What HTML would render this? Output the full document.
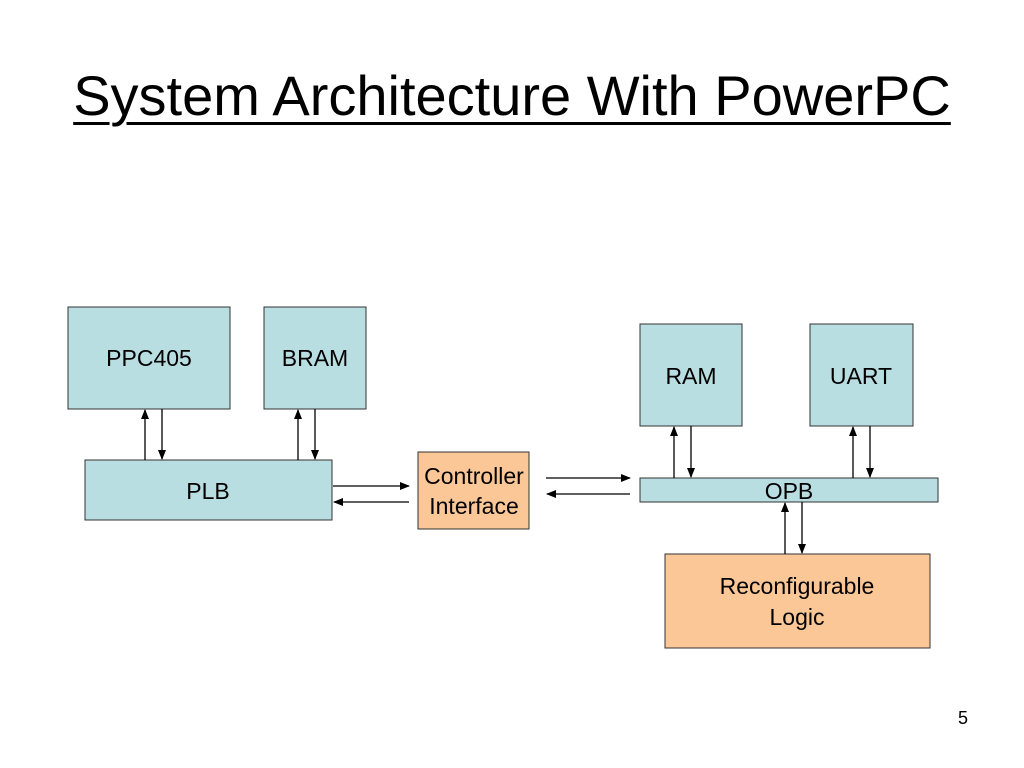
<!DOCTYPE html>
<html><head><style>
body{margin:0;width:1024px;height:768px;background:#fff;overflow:hidden;font-family:"Liberation Sans",sans-serif;}
.t{position:absolute;left:0;width:1024px;top:64px;text-align:center;font-size:56px;line-height:64px;text-decoration:underline;text-decoration-thickness:3px;text-underline-offset:7px;}
.n{position:absolute;right:56px;top:708px;font-size:18px;}
</style></head><body>
<div class="t">System Architecture With PowerPC</div>
<div class="n">5</div>
<svg width="1024" height="768" style="position:absolute;left:0;top:0" font-family="Liberation Sans, sans-serif" font-size="22">
<defs><marker id="a" markerWidth="10" markerHeight="8" refX="9" refY="4" orient="auto" markerUnits="userSpaceOnUse"><path d="M0,0L10,4L0,8z" fill="#000"/></marker></defs>
<g stroke="#333" stroke-width="1">
<rect x="68" y="307" width="162" height="102" fill="#b9dee2"/>
<rect x="264" y="307" width="102" height="102" fill="#b9dee2"/>
<rect x="85" y="460" width="247" height="60" fill="#b9dee2"/>
<rect x="418" y="452" width="111" height="77" fill="#fbc797"/>
<rect x="640" y="324" width="102" height="102" fill="#b9dee2"/>
<rect x="810" y="324" width="103" height="102" fill="#b9dee2"/>
<rect x="640" y="478" width="298" height="24" fill="#b9dee2"/>
<rect x="665" y="554" width="265" height="94" fill="#fbc797"/>
</g>
<g stroke="#000" stroke-width="1.3" marker-end="url(#a)">
<line x1="145" y1="460" x2="145" y2="410"/><line x1="162" y1="409" x2="162" y2="459"/>
<line x1="298" y1="460" x2="298" y2="410"/><line x1="315" y1="409" x2="315" y2="459"/>
<line x1="333" y1="486" x2="409" y2="486"/><line x1="409" y1="502" x2="334" y2="502"/>
<line x1="546" y1="478" x2="630" y2="478"/><line x1="630" y1="494" x2="547" y2="494"/>
<line x1="674" y1="478" x2="674" y2="427"/><line x1="691" y1="426" x2="691" y2="477"/>
<line x1="853" y1="478" x2="853" y2="427"/><line x1="870" y1="426" x2="870" y2="477"/>
<line x1="785" y1="554" x2="785" y2="503"/><line x1="802" y1="502" x2="802" y2="553"/>
</g>
<g text-anchor="middle" fill="#000" font-size="23">
<text x="149" y="366">PPC405</text>
<text x="315" y="366">BRAM</text>
<text x="208" y="499">PLB</text>
<text x="474" y="484">Controller</text>
<text x="474" y="514">Interface</text>
<text x="691" y="384">RAM</text>
<text x="861" y="384">UART</text>
<text x="789" y="499">OPB</text>
<text x="797" y="594">Reconfigurable</text>
<text x="797" y="625">Logic</text>
</g>
</svg>
</body></html>
